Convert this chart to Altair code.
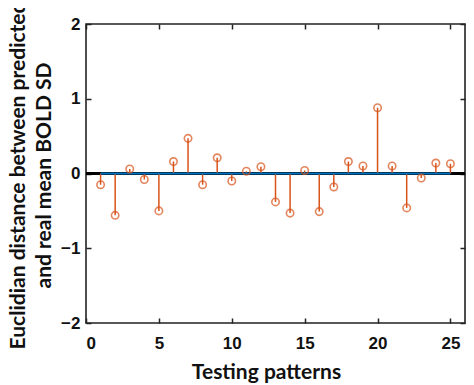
import altair as alt
import pandas as pd

patterns = list(range(1, 26))
values = [-0.15, -0.56, 0.06, -0.08, -0.50, 0.16, 0.47, -0.15, 0.21, -0.10,
          0.03, 0.09, -0.38, -0.53, 0.04, -0.51, -0.18, 0.16, 0.10, 0.88,
          0.10, -0.46, -0.06, 0.14, 0.13]
x_ticks = [0, 5, 10, 15, 20, 25]
y_ticks = [-2, -1, 0, 1, 2]
x_title = "Testing patterns"
y_title = ["Euclidian distance between predicted", "and real mean BOLD SD"]

df = pd.DataFrame({"pattern": patterns, "value": values, "zero": [0] * len(patterns)})

ORANGE = "#D95319"
BLUE = "#0072BD"
LABEL_FONT = "Liberation Sans"
TITLE_FONT = "Lato"
TICK = dict(tickSize=alt.ExprRef(expr="-5"), tickColor="#222", tickWidth=1.5,
            labels=False, title=None, domain=False, grid=False)

xscale = alt.Scale(domain=[0, 26], nice=False, zero=False)
yscale = alt.Scale(domain=[-2, 2], nice=False)

x_main = alt.X("pattern:Q", scale=xscale, axis=alt.Axis(
    values=x_ticks, title=x_title, grid=False, domain=False, ticks=False,
    labelPadding=12, labelFont=LABEL_FONT, labelFontSize=17, labelFontWeight="bold",
    labelColor="#111", titleFont=TITLE_FONT, titleFontSize=21, titleFontWeight="bold",
    titleColor="#111", titleX=180, titleY=55, titleBaseline="alphabetic",
    titleAlign="center"))
y_main = alt.Y("value:Q", scale=yscale, axis=alt.Axis(
    values=y_ticks, format="d", title=y_title, grid=False, domain=False, ticks=False,
    labelPadding=6, labelFont=LABEL_FONT, labelFontSize=17, labelFontWeight="bold",
    labelColor="#111", titleFont=TITLE_FONT, titleFontSize=21, titleFontWeight="bold",
    titleColor="#111", titleLineHeight=26, titleX=-62, titleY=151, titleAngle=-90,
    titleAlign="center", titleBaseline="alphabetic"))

base = alt.Chart(df)

black_base = base.mark_rule(color="black", strokeWidth=1.5).encode(
    x=alt.datum(0, scale=xscale), x2=alt.datum(26), y=alt.datum(0))
stems = base.mark_rule(color=ORANGE, strokeWidth=1.5).encode(
    x=x_main, y=y_main, y2="zero:Q")
blue_line = base.mark_line(color=BLUE, strokeWidth=2).encode(
    x="pattern:Q", y="zero:Q")
points = base.mark_point(shape="circle", size=55, color=ORANGE, strokeWidth=1.6,
                         filled=False).encode(x="pattern:Q", y="value:Q")

main = alt.layer(black_base, stems, blue_line, points)

mirror_tr = base.mark_point(opacity=0).encode(
    x=alt.X("pattern:Q", scale=xscale, axis=alt.Axis(orient="top", values=x_ticks, **TICK)),
    y=alt.Y("value:Q", scale=yscale, axis=alt.Axis(orient="right", values=y_ticks, **TICK)),
)
mirror_bl = base.mark_point(opacity=0).encode(
    x=alt.X("pattern:Q", scale=xscale, axis=alt.Axis(orient="bottom", values=x_ticks, **TICK)),
    y=alt.Y("value:Q", scale=yscale, axis=alt.Axis(orient="left", values=y_ticks, **TICK)),
)

chart = alt.layer(main, mirror_tr, mirror_bl).resolve_axis(
    x="independent", y="independent").properties(
    width=379, height=299,
    autosize=alt.AutoSizeParams(type="none"),
    padding={"left": 78, "top": 16, "right": 1, "bottom": 61},
    background="white",
).configure_view(stroke="#222", strokeWidth=1.6)

chart.save("out.html", embed_options={"renderer": "svg", "actions": False})
